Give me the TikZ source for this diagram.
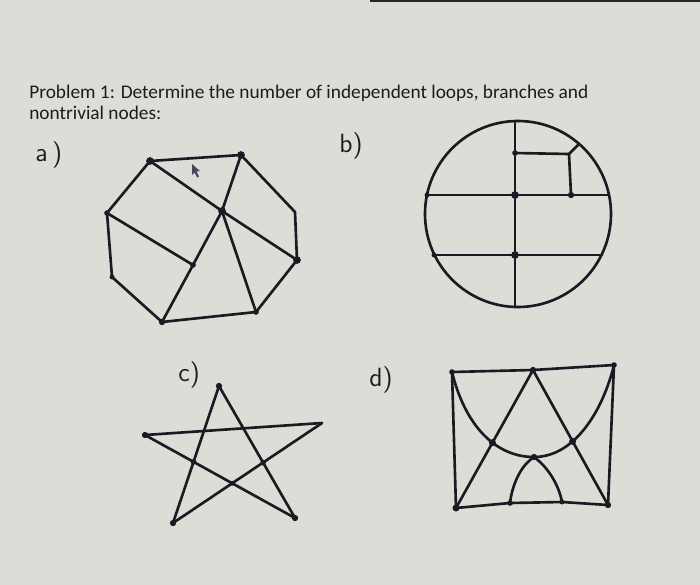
\documentclass[tikz,border=0pt]{standalone}
\usepackage{fontspec}
\setmainfont{Carlito}
\usetikzlibrary{intersections}
\definecolor{paper}{RGB}{221,220,215}
\definecolor{ink}{RGB}{26,26,34}
\definecolor{print}{RGB}{28,28,30}
\definecolor{pointer}{RGB}{70,72,92}
\tikzset{
  wire/.style={line width=1.5pt, color=ink, line cap=round, line join=round},
  hand/.style={font=\sffamily\fontsize{15}{15}\selectfont, color=ink, inner sep=0pt}
}

\begin{document}
\begin{tikzpicture}[x=0.02cm, y=-0.02cm]
		%%%%% START %%%%%

		\fill[paper] (0, 0) rectangle (700, 585);
		\useasboundingbox (0, 0) rectangle (700, 585);
		\fill[black!85] (370, 0) rectangle (700, 2);

		\node[anchor=base west, inner sep=0pt, color=print, font=\fontsize{11}{13}\selectfont] (title) at (29, 98) {Problem 1: Determine the number of independent loops, branches and};
		\node[anchor=base west, inner sep=0pt, color=print, font=\fontsize{11}{13}\selectfont] (title2) at (29, 119) {nontrivial nodes:};

		\node[hand, anchor=base west] (labela) at (35, 161) {a\,)};
		\node[hand, anchor=base west] (labelb) at (339, 152) {b)};
		\node[hand, anchor=base west] (labelc) at (178, 381) {c)};
		\node[hand, anchor=base west] (labeld) at (369, 386) {d)};

		%%%%% a) %%%%%
		\coordinate (aA) at (150, 161);
		\coordinate (aB) at (241, 155);
		\coordinate (aC) at (295, 212);
		\coordinate (aD) at (297, 260);
		\coordinate (aE) at (256, 312);
		\coordinate (aF) at (162, 322);
		\coordinate (aG) at (112, 277);
		\coordinate (aH) at (107, 213);
		\coordinate (aX) at (222, 211);
		\coordinate (aI) at (193, 265);

		\draw[wire] (aA) -- (aB) -- (aC) -- (aD) -- (aE) -- (aF) -- (aG) -- (aH) -- cycle;
		\draw[wire] (aA) -- (aX) -- (aD);
		\draw[wire] (aB) -- (aX) -- (aE);
		\draw[wire] (aX) -- (aI) -- (aF);
		\draw[wire] (aH) -- (aI);
		\fill[ink] (aA) circle (2.2pt) (aB) circle (2.2pt) (aX) circle (2.2pt) (aD) circle (2.2pt);
		\fill[ink] (aE) circle (1.6pt) (aF) circle (1.8pt) (aG) circle (1.4pt) (aH) circle (1.6pt) (aI) circle (1.6pt);

		% mouse pointer
		\fill[pointer] (192, 164) -- (192, 175) -- (194.5, 172.5) -- (197, 177.5) -- (199, 176.5) -- (196.5, 171.5) -- (200, 171) -- cycle;

		%%%%% b) %%%%%
		\coordinate (bO) at (518, 214);
		\coordinate (bTop) at (515, 121);
		\coordinate (bBot) at (515, 307);
		\coordinate (bL1) at (427, 195);
		\coordinate (bR1) at (609, 195);
		\coordinate (bL2) at (434, 255);
		\coordinate (bR2) at (602, 255);
		\coordinate (bM0) at (515, 153);
		\coordinate (bM1) at (515, 195);
		\coordinate (bM2) at (515, 255);
		\coordinate (bK) at (569, 154);
		\coordinate (bKb) at (571, 195);
		\coordinate (bRim) at (579, 144);

		\draw[wire] (bO) circle (93);
		\draw[wire] (bTop) -- (bM0) -- (bM1) -- (bM2) -- (bBot);
		\draw[wire] (bL1) -- (bM1) -- (bKb) -- (bR1);
		\draw[wire] (bL2) -- (bM2) -- (bR2);
		\draw[wire] (bM0) -- (bK) -- (bKb);
		\draw[wire] (bK) -- (bRim);
		\fill[ink] (bM0) circle (1.6pt) (bM1) circle (2.2pt) (bM2) circle (2.2pt) (bKb) circle (1.8pt);
		\fill[ink] (bL1) circle (1.4pt) (bL2) circle (1.4pt);

		%%%%% c) %%%%%
		\coordinate (cT) at (219, 386);
		\coordinate (cL) at (145, 435);
		\coordinate (cR) at (322, 423);
		\coordinate (cBL) at (173, 523);
		\coordinate (cBR) at (295, 518);
		\coordinate (cI1) at (intersection of cL--cBR and cT--cBL);
		\coordinate (cI2) at (intersection of cR--cBL and cT--cBR);
		\coordinate (cI3) at (intersection of cL--cBR and cR--cBL);

		\draw[wire] (cT) -- (cBL);
		\draw[wire] (cT) -- (cBR);
		\draw[wire] (cL) -- (cR);
		\draw[wire] (cL) -- (cBR);
		\draw[wire] (cR) -- (cBL);
		\fill[ink] (cT) circle (1.8pt) (cL) circle (1.8pt) (cBL) circle (1.8pt) (cBR) circle (1.8pt);
		\fill[ink] (cI1) circle (1.6pt) (cI2) circle (1.6pt) (cI3) circle (1.4pt);

		%%%%% d) %%%%%
		\coordinate (dTL) at (452, 372);
		\coordinate (dTop) at (533, 370);
		\coordinate (dTR) at (614, 365);
		\coordinate (dBR) at (608, 505);
		\coordinate (dBL) at (456, 508);
		\coordinate (dM) at (534, 457);
		\coordinate (dA1) at (510, 503);
		\coordinate (dA2) at (562, 502);

		\draw[wire] (dTL) -- (dTop) -- (dTR) -- (dBR) -- (dA2) -- (dA1) -- (dBL) -- cycle;
		\draw[wire, name path=slopeL] (dTop) -- (dBL);
		\draw[wire, name path=slopeR] (dTop) -- (dBR);
		\draw[wire, name path=bowl] (dTL) .. controls (465, 425) and (495, 457) .. (dM) .. controls (575, 457) and (603, 410) .. (dTR);
		\draw[wire] (dM) .. controls (520, 466) and (512, 486) .. (dA1);
		\draw[wire] (dM) .. controls (549, 468) and (559, 486) .. (dA2);
		\path[name intersections={of=bowl and slopeL, by=dXL}];
		\path[name intersections={of=bowl and slopeR, by=dXR}];
		\fill[ink] (dTL) circle (1.6pt) (dTop) circle (1.8pt) (dTR) circle (1.6pt) (dBR) circle (1.8pt) (dBL) circle (2pt);
		\fill[ink] (dXL) circle (2pt) (dXR) circle (2pt) (dM) circle (1.8pt) (dA1) circle (1.6pt) (dA2) circle (1.4pt);

		%%%%% END %%%%%
	\end{tikzpicture}
\end{document}
